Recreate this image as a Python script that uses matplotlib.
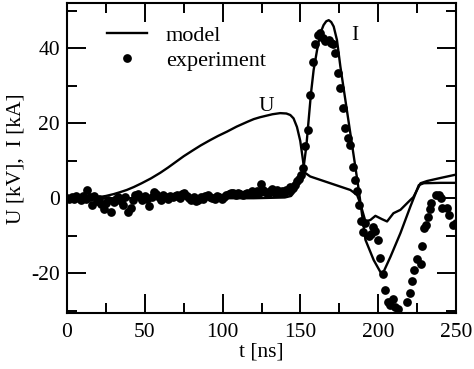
import numpy as np
import matplotlib
matplotlib.use('Agg')
import matplotlib.pyplot as plt
from matplotlib.ticker import MultipleLocator

plt.rcParams['font.family'] = ['Liberation Serif', 'DejaVu Serif']
plt.rcParams['font.size'] = 15.5
plt.rcParams['axes.unicode_minus'] = False

# model: voltage U
t_U = [0, 10, 15, 20, 25, 30, 34, 38.4, 43, 48, 54, 60, 65, 70, 75, 81, 86, 92, 97,
       103, 109, 116, 120, 124, 128, 132, 137, 141, 143.5, 145.6, 147.8, 149.9,
       151.7, 152.6, 156.3, 169.2, 182.1, 186.4, 188.4, 191.8, 195, 198.2, 202.5,
       205.7, 209.8, 214.3, 219.6, 222.6, 227.2, 231.5, 240, 250]
U_model = [0, 0, 0.1, 0.25, 0.6, 1.1, 1.6, 2.2, 3.0, 4.0, 5.3, 6.8, 8.2, 9.7, 11.2,
           12.8, 14.1, 15.5, 16.6, 17.8, 19.1, 20.4, 21.1, 21.6, 22.0, 22.4, 22.7,
           22.6, 22.2, 21.3, 19.0, 15.3, 10.0, 6.9, 5.8, 4.0, 2.2, 0.9, -1.3,
           -6.2, -5.8, -4.7, -5.6, -6.2, -4.0, -3.1, -0.9, 0.3, 4.0, 4.6, 5.4, 6.3]

# model: current I
t_I = [0, 60, 120, 140, 144, 146, 147.7, 149.8, 152.1, 153.8, 155.3, 156.8, 158.5,
       160.7, 162.8, 164.9, 166.6, 168.2, 169.8, 171.4, 173.5, 175.7, 178.9, 182.1,
       185.3, 187.5, 189.5, 191.8, 197.1, 202.5, 207.9, 214.3, 220.7, 226.1, 229.3,
       240, 250]
I_model = [0, 0, 0, 0.2, 0.6, 1.6, 3.3, 5.3, 8.4, 13.8, 20.9, 28.0, 34.2,
           39.5, 44.0, 46.2, 47.2, 47.5, 47.0, 45.8, 42.2, 35.1, 26.2, 17.3,
           8.4, 2.2, -4.0, -11.1, -16.5, -20.5, -15.6, -9.3, -2.2, 3.5, 4.0,
           4.1, 4.1]

# experiment (current)
t_exp = [0, 1.5, 3, 4.5, 6, 7.5, 9, 10.5, 12, 13, 14.5, 16, 17.5, 19, 20.5, 22, 23.5,
         25, 26.5, 28.5, 30, 31.5, 33, 34.5, 36, 37.5, 39.5, 41, 42.5, 44, 45.5, 47,
         48.5, 50, 51.5, 53, 54.5, 56, 57.5, 59, 60.5, 62, 63.5, 65, 66.5, 68, 69.5,
         71, 72.5, 74, 75.5, 77, 78.5, 80, 81.5, 83, 84.5, 86, 87.5, 89, 90.5, 92,
         93.5, 95, 96.5, 98, 99.5, 101, 102.5, 104, 105.5, 107, 108.5, 110, 111.5,
         113, 114.5, 116, 117.5, 119, 120.5, 122, 123.5, 124.5, 126, 127.5, 129,
         130.5, 132, 133.5, 135, 136.5, 138, 139.5, 141, 142.5, 143.5, 145, 146.5,
         147.6, 149, 150.2, 151.5, 153.1, 154.9, 156.4, 157.8, 159.6, 161.1, 162.8,
         164.3, 166, 168.2, 169.7, 171, 172.5, 174.2, 175.7, 177.2, 178.9, 180.4,
         182.1, 183.6, 185.3, 186.4, 187.5, 189, 190.2, 191.8, 193.9, 195.4, 196.7,
         198.2, 199.9, 201.4, 203.1, 204.6, 206.1, 207.9, 209.3, 211.1, 212.6,
         218.6, 220.3, 221.8, 223.3, 225, 227.2, 228.2, 229.3, 231, 231.9, 233,
         234.1, 236.9, 239, 240.5, 241.2, 244, 245.4, 248.2, 249.7]
I_exp = [0.0, -0.2, 0.3, -0.3, 0.5, 0.1, -0.4, 0.6, -0.2, 2.2, 0.4, -1.8, 0.5, -0.8,
         -0.3, -1.5, -2.8, -1.2, -0.5, -3.6, -1.0, -0.2, 0.4, -0.8, -1.9, 0.2, -3.8,
         -2.6, -0.4, 0.9, 1.2, 0.3, -0.5, 0.6, -0.3, -2.0, 0.2, 1.6, 1.0, 0.4, -0.6,
         0.8, 0.3, -0.2, 0.7, 0.2, 0.5, 0.9, 0.1, 1.2, 1.4, 0.6, 0.0, -0.4, 0.3, -0.8,
         -0.5, 0.2, -0.1, 0.6, 0.9, 0.4, 0.0, -0.3, 0.5, 0.2, -0.2, 0.4, 0.8, 1.1,
         1.5, 1.3, 0.9, 1.4, 1.2, 0.8, 1.0, 1.3, 1.1, 1.8, 1.2, 2.0, 1.5, 3.9, 2.2,
         1.6, 1.2, 1.9, 2.4, 1.5, 2.2, 1.4, 1.9, 1.3, 2.2, 1.8, 3.0, 2.6, 3.6,
         4.6, 5.0, 6.2, 8.0, 13.8, 18.2, 27.5, 36.4, 41.1, 43.5, 44.0,
         42.7, 42.0, 42.2, 41.5, 41.1, 38.7, 33.3, 29.3, 24.0, 18.7, 16.0,
         14.2, 8.4, 4.9, 1.8, -1.8, -6.2, -8.9, -6.7, -10.2, -9.5, -7.6,
         -8.7, -11.1, -16.0, -20.2, -24.5, -27.6, -28.5, -26.9, -28.9, -29.6,
         -27.6, -25.3, -22.2, -19.1, -16.3, -17.5, -12.7, -8.0, -7.1, -5.1, -2.9,
         -1.2, 0.9, 0.9, 0.0, -2.7, -2.7, -4.5, -7.1, -6.7]

fig = plt.figure(figsize=(4.74, 3.69), dpi=100)
ax = fig.add_axes([67 / 474, 1 - 313.3 / 369, 389 / 474, 310 / 369])

ax.plot(t_U, U_model, color='black', lw=1.7, label='model')
ax.plot(t_I, I_model, color='black', lw=1.7)
ax.plot(t_exp, I_exp, 'o', color='black', ms=6.3, mew=0, label='experiment')

ax.text(128, 24.6, 'U', ha='center', va='center')
ax.text(185, 43.5, 'I', ha='center', va='center')

ax.set_xlim(0, 250)
ax.set_ylim(-30.7, 52.0)
ax.xaxis.set_major_locator(MultipleLocator(50))
ax.xaxis.set_minor_locator(MultipleLocator(25))
ax.yaxis.set_major_locator(MultipleLocator(20))
ax.yaxis.set_minor_locator(MultipleLocator(10))
ax.tick_params(which='both', direction='in', top=True, right=True, width=1.4)
ax.tick_params(which='major', length=13.5)
ax.tick_params(which='minor', length=7)
ax.tick_params(axis='x', pad=7)
ax.tick_params(axis='y', pad=5)
for s in ax.spines.values():
    s.set_linewidth(1.5)

ax.set_xlabel('t [ns]', labelpad=0)
ax.set_ylabel('U [kV],  I [kA]', labelpad=4)

ax.legend(loc='upper left', bbox_to_anchor=(0.103, 0.93), frameon=False,
          borderpad=0, borderaxespad=0, handlelength=1.8, handletextpad=0.85,
          labelspacing=0.2, numpoints=1, fontsize=16)

fig.savefig('out.png', dpi=100)
